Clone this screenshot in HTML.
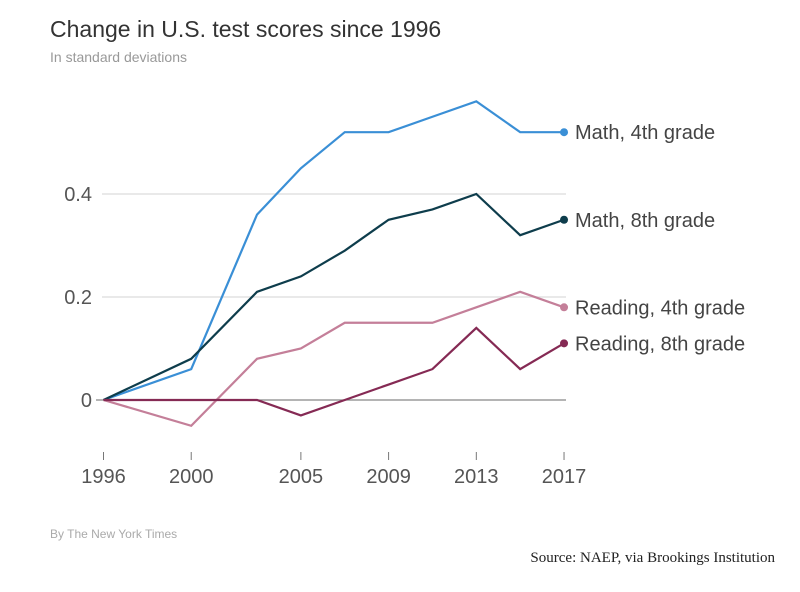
<!DOCTYPE html>
<html><head><meta charset="utf-8"><style>
body{margin:0;background:#fff;width:800px;height:587px;overflow:hidden;font-family:"Liberation Sans",sans-serif;}
</style></head><body>
<svg width="800" height="587">
<text x="50" y="37" font-size="23" fill="#333">Change in U.S. test scores since 1996</text>
<text x="50" y="62" font-size="14" fill="#999">In standard deviations</text>
<g id="grid"></g><g id="series"></g><g id="xaxis"></g>
<text x="50" y="538" font-size="12" fill="#aaa">By The New York Times</text>
<text x="775" y="562" font-size="15" fill="#222" text-anchor="end" font-family="Liberation Serif, serif">Source: NAEP, via Brookings Institution</text>
</svg>
<script>
const years=[1996,2000,2003,2005,2007,2009,2011,2013,2015,2017];
const math4=[0,0.06,0.36,0.45,0.52,0.52,0.55,0.58,0.52,0.52];
const math8=[0,0.08,0.21,0.24,0.29,0.35,0.37,0.40,0.32,0.35];
const read4=[0,-0.05,0.08,0.10,0.15,0.15,0.15,0.18,0.21,0.18];
const read8=[0,0,0,-0.03,0,0.03,0.06,0.14,0.06,0.11];
const xTicks=[1996,2000,2005,2009,2013,2017];
const yTicks=[0,0.2,0.4];
const seriesNames=["Math, 4th grade","Math, 8th grade","Reading, 4th grade","Reading, 8th grade"];
const NS="http://www.w3.org/2000/svg";
const x=y=>103.5+(y-1996)*21.93;
const yS=v=>400-v*515;
function mk(t,a,p){const e=document.createElementNS(NS,t);for(const k in a)e.setAttribute(k,a[k]);p.appendChild(e);return e;}
const grid=document.getElementById('grid');
yTicks.forEach(v=>{
  const l=mk('line',{x1:v===0?96:102,x2:566,y1:yS(v),y2:yS(v),stroke:v===0?'#888':'#e2e2e2','stroke-width':v===0?1.2:1.5},grid);
  
  
  const t=mk('text',{x:92,y:yS(v)+7,'font-size':20,fill:'#555','text-anchor':'end'},grid);
  t.textContent=v===0?'0':String(v);
  
  
});
const xa=document.getElementById('xaxis');
xTicks.forEach(yr=>{
  const l=mk('line',{x1:x(yr),x2:x(yr),y1:452,y2:460,stroke:'#777','stroke-width':1},xa);
  
  
  const t=mk('text',{x:x(yr),y:483,'font-size':20,fill:'#555','text-anchor':'middle'},xa);
  t.textContent=yr;
  
  
});
const sg=document.getElementById('series');
const data=[math4,math8,read4,read8];
const colors=['#3a8fd6','#0e3d4c','#c47f99','#852a54'];
const lblOff=[0,0,0,0];
data.forEach((d,i)=>{
  const pts=d.map((v,j)=>x(years[j])+','+yS(v)).join(' ');
  const p=mk('polyline',{points:pts,fill:'none',stroke:colors[i],'stroke-width':2.2,'stroke-linejoin':'miter'},sg);
  
  
  const last=d[d.length-1];
  const c=mk('circle',{cx:x(years[years.length-1]),cy:yS(last),r:4,fill:colors[i]},sg);
  
  
  const t=mk('text',{x:575,y:yS(last)+7,'font-size':20,fill:'#444'},sg);
  t.textContent=seriesNames[i];
  
  
});
</script>
</body></html>
